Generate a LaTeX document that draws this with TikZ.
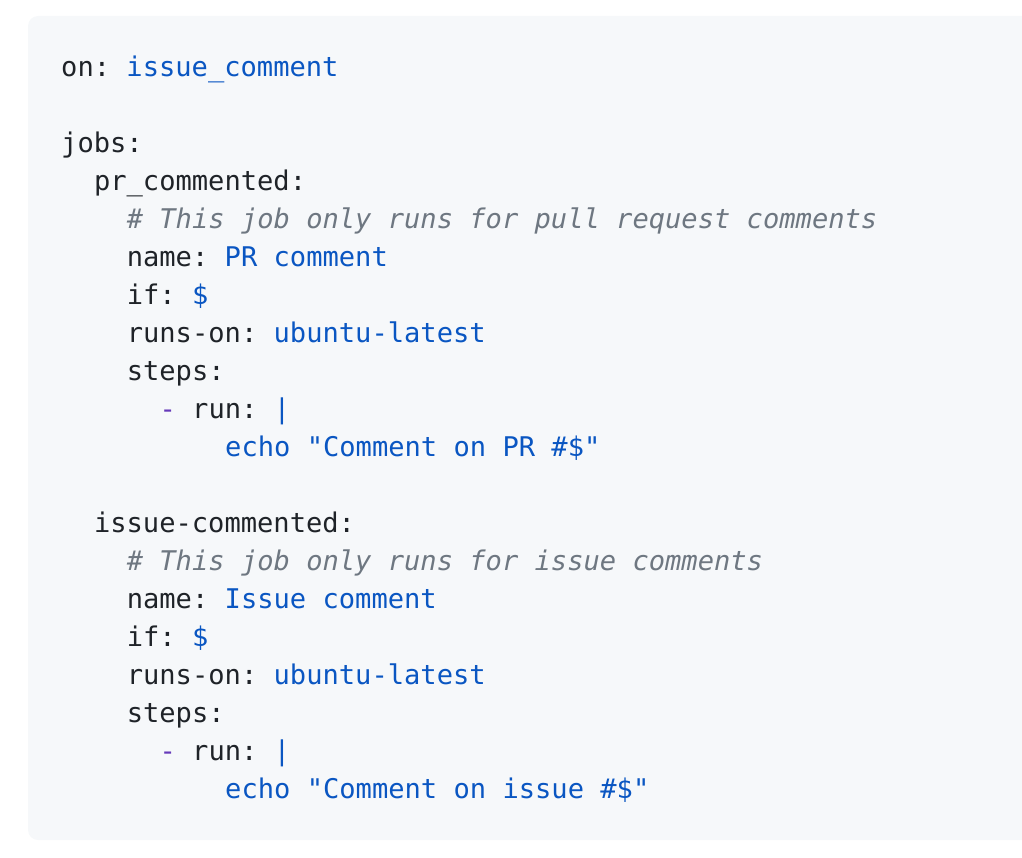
\documentclass[tikz,border=0pt]{standalone}
\usepackage{fontspec}
\setmonofont{DejaVu Sans Mono}
\definecolor{bg}{HTML}{F6F8FA}
\definecolor{txt}{HTML}{1F2328}
\definecolor{blu}{HTML}{0A56C2}
\definecolor{cmt}{HTML}{6E7781}
\definecolor{pur}{HTML}{6639BA}
\newcommand{\B}[1]{{\color{blu}#1}}
\newcommand{\Pu}[1]{{\color{pur}#1}}
\begin{document}
\begin{tikzpicture}[x=1pt,y=1pt,
  codeline/.style={anchor=base west,inner sep=0pt,font=\ttfamily\fontsize{27.1}{30}\selectfont,text=txt},
  comm/.style={codeline,text=cmt,font=\ttfamily\itshape\fontsize{27.1}{30}\selectfont}]
\useasboundingbox (0,0) rectangle (1022,-858);
\clip (0,0) rectangle (1022,-858);
\fill[bg,rounded corners=10pt] (28,-16) rectangle (1060,-840);
\def\ch{16.4}
\node[codeline] (l1) at (61,-76.5) {on:\ \B{issue\_comment}};
\node[codeline] (l3) at (61,-152.5) {jobs:};
\node[codeline] (l4) at (61+2*\ch,-190.5) {pr\_commented:};
\node[comm] (l5) at (61+4*\ch,-228.5) {\#\ This\ job\ only\ runs\ for\ pull\ request\ comments};
\node[codeline] (l6) at (61+4*\ch,-266.5) {name:\ \B{PR\ comment}};
\node[codeline] (l7) at (61+4*\ch,-304.5) {if:\ \B{\$}};
\node[codeline] (l8) at (61+4*\ch,-342.5) {runs-on:\ \B{ubuntu-latest}};
\node[codeline] (l9) at (61+4*\ch,-380.5) {steps:};
\node[codeline] (l10) at (61+6*\ch,-418.5) {\Pu{-}\ run:\ \B{|}};
\node[codeline] (l11) at (61+10*\ch,-456.5) {\B{echo\ "Comment\ on\ PR\ \#\$"}};
\node[codeline] (l13) at (61+2*\ch,-532.5) {issue-commented:};
\node[comm] (l14) at (61+4*\ch,-570.5) {\#\ This\ job\ only\ runs\ for\ issue\ comments};
\node[codeline] (l15) at (61+4*\ch,-608.5) {name:\ \B{Issue\ comment}};
\node[codeline] (l16) at (61+4*\ch,-646.5) {if:\ \B{\$}};
\node[codeline] (l17) at (61+4*\ch,-684.5) {runs-on:\ \B{ubuntu-latest}};
\node[codeline] (l18) at (61+4*\ch,-722.5) {steps:};
\node[codeline] (l19) at (61+6*\ch,-760.5) {\Pu{-}\ run:\ \B{|}};
\node[codeline] (l20) at (61+10*\ch,-798.5) {\B{echo\ "Comment\ on\ issue\ \#\$"}};
\end{tikzpicture}
\end{document}
